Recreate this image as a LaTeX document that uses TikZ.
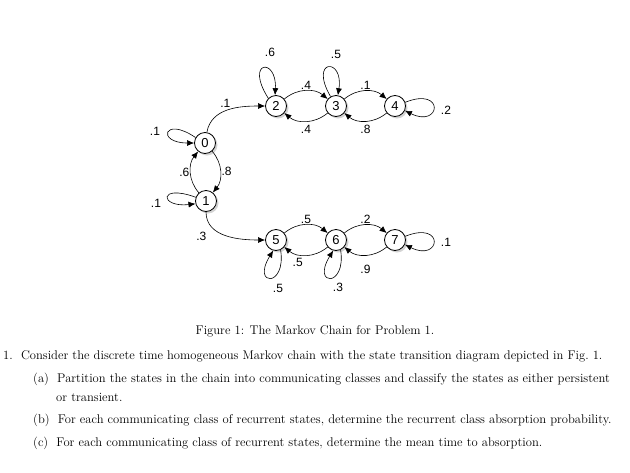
\documentclass[tikz,border=0pt]{standalone}
\usepackage{fontspec}
\newfontfamily\lab{Liberation Sans}
\usetikzlibrary{arrows.meta,shadows}
\begin{document}
\begin{tikzpicture}[x=1pt,y=-1pt,
  st/.style={circle,draw,thick,fill=white,minimum size=21pt,inner sep=0pt,font=\lab\fontsize{13}{15}\selectfont,drop shadow={shadow xshift=2pt,shadow yshift=-2pt,opacity=.35}},
  ed/.style={-{Latex[length=7pt,width=6pt]},semithick},
  lb/.style={font=\lab\fontsize{12}{14}\selectfont,inner sep=1pt},
  tx/.style={font=\fontsize{12.6}{15}\selectfont,inner sep=0pt}]
\useasboundingbox (0,0) rectangle (630,472);
\node[st] (n0) at (205,143) {0};
\node[st] (n1) at (206,201) {1};
\node[st] (n2) at (276,106) {2};
\node[st] (n3) at (336,106) {3};
\node[st] (n4) at (395,106) {4};
\node[st] (n5) at (276,240) {5};
\node[st] (n6) at (336,240) {6};
\node[st] (n7) at (395,240) {7};
% loops
\draw[ed] (n0.150) .. controls +(-32,-22) and +(-38,0) .. (n0.west);
\node[lb] (l0) at (155,131) {.1};
\draw[ed] (n1.160) .. controls +(-38,-14) and +(-36,4) .. (n1.195);
\node[lb] (l1) at (156,203) {.1};
\draw[ed] (n2.135) .. controls +(-24,-38) and +(2,-38) .. (n2.95);
\node[lb] (l2) at (270,52) {.6};
\draw[ed] (n3.120) .. controls +(-22,-38) and +(6,-38) .. (n3.80);
\node[lb] (l3) at (336,54) {.5};
\draw[ed] (n4.20) .. controls +(40,-16) and +(36,18) .. (n4.-25);
\node[lb] (l4) at (446,110) {.2};
\draw[ed] (n5.-65) .. controls +(6,38) and +(-22,36) .. (n5.-105);
\node[lb] (l5) at (278,288) {.5};
\draw[ed] (n6.-65) .. controls +(6,38) and +(-22,36) .. (n6.-105);
\node[lb] (l6) at (338,287) {.3};
\draw[ed] (n7.20) .. controls +(40,-16) and +(36,18) .. (n7.-25);
\node[lb] (l7) at (446,242) {.1};
% edges
\draw[ed] (n0) to[out=80,in=180] node[lb,pos=.55,above left]{.1} (n2);
\draw[ed] (n0) to[bend left=40] node[lb,right]{.8} (n1);
\draw[ed] (n1) to[bend left=40] node[lb,left]{.6} (n0);
\draw[ed] (n1) to[out=-90,in=180] node[lb,pos=.25,below left=4pt]{.3} (n5);
\draw[ed] (n2) to[bend left=40] node[lb,above]{.4} (n3);
\draw[ed] (n3) to[bend left=40] node[lb,below=3pt]{.4} (n2);
\draw[ed] (n3) to[bend left=40] node[lb,above]{.1} (n4);
\draw[ed] (n4) to[bend left=40] node[lb,below=3pt]{.8} (n3);
\draw[ed] (n5) to[bend left=40] node[lb,above]{.5} (n6);
\draw[ed] (n6) to[bend left=40] node[lb,below left=2pt]{.5} (n5);
\draw[ed] (n6) to[bend left=40] node[lb,above]{.2} (n7);
\draw[ed] (n7) to[bend left=40] node[lb,below=9pt]{.9} (n6);
% text
\node[tx] (cap) at (315,331) {Figure 1: The Markov Chain for Problem 1.};
\node[tx,anchor=west] (q) at (3,356) {1.\ \ Consider the discrete time homogeneous Markov chain with the state transition diagram depicted in Fig.~1.};
\node[tx,anchor=west] (qa) at (33,379) {(a)\ \ Partition the states in the chain into communicating classes and classify the states as either persistent};
\node[tx,anchor=west] (qa2) at (56,397) {or transient.};
\node[tx,anchor=west] (qb) at (33,420) {(b)\ \ For each communicating class of recurrent states, determine the recurrent class absorption probability.};
\node[tx,anchor=west] (qc) at (33,443) {(c)\ \ For each communicating class of recurrent states, determine the mean time to absorption.};
\end{tikzpicture}
\end{document}
